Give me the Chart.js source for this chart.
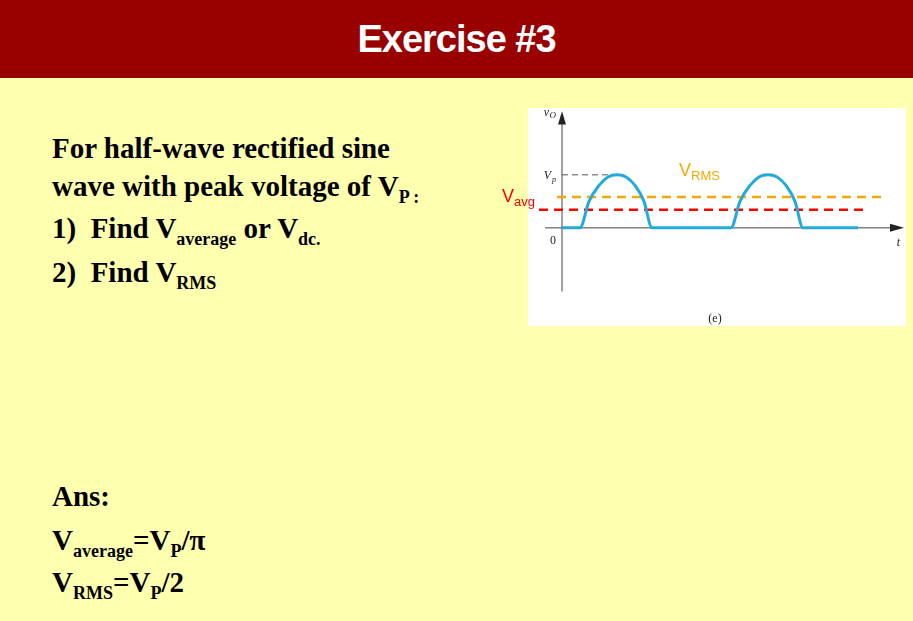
<!DOCTYPE html><html><head><meta charset="utf-8">
<script src="https://cdn.jsdelivr.net/npm/chart.js@4"></script>
<style>
body{margin:0;width:913px;height:621px;background:#ffffb0;position:relative;overflow:hidden;font-family:"Liberation Serif",serif}
#hdr{position:absolute;left:0;top:0;width:913px;height:78px;background:#990000;color:#fff;font:bold 38px "Liberation Sans",sans-serif;text-align:center;line-height:78px;letter-spacing:-1px}
.t{position:absolute;font-weight:bold;font-size:29px;color:#000;white-space:nowrap}
sub{font-size:18px;vertical-align:-7px}
#box{position:absolute;left:528px;top:108px;width:378px;height:218px;background:#fff}
.lab{position:absolute;font-family:"Liberation Sans",sans-serif;white-space:nowrap}
</style></head><body>
<div id="hdr">Exercise #3</div>
<div class="t" style="left:52px;top:132px">For half-wave rectified sine</div>
<div class="t" style="left:52px;top:170px">wave with peak voltage of V<sub>P :</sub></div>
<div class="t" style="left:52px;top:212px">1)&nbsp; Find V<sub>average</sub> or V<sub>dc.</sub></div>
<div class="t" style="left:52px;top:256px">2)&nbsp; Find V<sub>RMS</sub></div>
<div class="t" style="left:52px;top:480px">Ans:</div>
<div class="t" style="left:52px;top:524px">V<sub>average</sub>=V<sub>P</sub>/π</div>
<div class="t" style="left:52px;top:566px">V<sub>RMS</sub>=V<sub>P</sub>/2</div>
<div id="box"><canvas id="c" width="378" height="218"></canvas></div>
<div class="lab" style="left:502px;top:186px;color:#ff0000;font-size:18px">V<span style="font-size:13px;vertical-align:-4px">avg</span></div>
<div class="lab" style="left:679px;top:160px;color:#f5a800;font-size:18px">V<span style="font-size:13px;vertical-align:-4px">RMS</span></div>
<script>
const waveT=[0,18,27,37,46,55,64,73,82,90,169,178,188,197,206,215,224,233,241,296];
const waveV=[0,0,0.5,0.8,0.96,1,0.96,0.8,0.5,0,0,0.5,0.8,0.96,1,0.96,0.8,0.5,0,0];
const vrmsLevel=0.58, vavgLevel=0.34, vPeak=1;
const rmsRange=[-5,325], avgRange=[-23,306];
const wave=waveT.map((t,i)=>({x:t,y:waveV[i]}));
const axes={id:'axes',beforeDatasetsDraw(ch){
 const c=ch.ctx,x=ch.scales.x,y=ch.scales.y;
 const x0=x.getPixelForValue(0),y0=y.getPixelForValue(0);
 c.save();c.strokeStyle='#444';c.fillStyle='#222';c.lineWidth=1;
 c.beginPath();c.moveTo(x0,y.getPixelForValue(-1.2));c.lineTo(x0,y.getPixelForValue(2.05));
 c.moveTo(x.getPixelForValue(-17),y0);c.lineTo(x.getPixelForValue(330),y0);c.stroke();
 c.beginPath();c.moveTo(x0,y.getPixelForValue(2.2));c.lineTo(x0-4,y.getPixelForValue(1.95));c.lineTo(x0+4,y.getPixelForValue(1.95));c.fill();
 c.beginPath();c.moveTo(x.getPixelForValue(342),y0);c.lineTo(x.getPixelForValue(328),y0-4);c.lineTo(x.getPixelForValue(328),y0+4);c.fill();
 c.setLineDash([6,4]);c.strokeStyle='#555';c.beginPath();c.moveTo(x0,y.getPixelForValue(vPeak));c.lineTo(x.getPixelForValue(50),y.getPixelForValue(vPeak));c.stroke();
 c.setLineDash([]);c.font='italic 12px "Liberation Serif"';c.textAlign='right';
 c.fillText('v',x0-13,y.getPixelForValue(2.1));c.font='italic 9px "Liberation Serif"';c.fillText('O',x0-6,y.getPixelForValue(2.1)+2);
 c.font='italic 12px "Liberation Serif"';c.fillText('V',x0-11,y.getPixelForValue(vPeak)+4);
 c.font='italic 8px "Liberation Serif"';c.fillText('p',x0-6,y.getPixelForValue(vPeak)+7);
 c.font='12px "Liberation Serif"';c.fillText('0',x0-6,y0+16);
 c.font='italic 12px "Liberation Serif"';c.fillText('t',x.getPixelForValue(338),y0+18);
 c.font='12px "Liberation Serif"';c.textAlign='center';c.fillText('(e)',x.getPixelForValue(153),ch.height-4);
 c.restore();}};
new Chart(document.getElementById('c'),{type:'scatter',
 data:{datasets:[
  {data:wave,showLine:true,borderColor:'#22aadd',borderWidth:3,pointRadius:0,cubicInterpolationMode:'monotone',order:1},
  {data:rmsRange.map(t=>({x:t,y:vrmsLevel})),showLine:true,borderColor:'#f5a800',borderWidth:2.5,borderDash:[9,6],pointRadius:0,order:2},
  {data:avgRange.map(t=>({x:t,y:vavgLevel})),showLine:true,borderColor:'#ff0000',borderWidth:2.5,borderDash:[9,6],pointRadius:0,order:3}]},
 options:{responsive:false,animation:false,layout:{padding:0},
  plugins:{legend:{display:false},tooltip:{enabled:false}},
  scales:{x:{type:'linear',display:false,min:-34,max:344},y:{display:false,min:-1.85,max:2.26}}},
 plugins:[axes]});
</script></body></html>
